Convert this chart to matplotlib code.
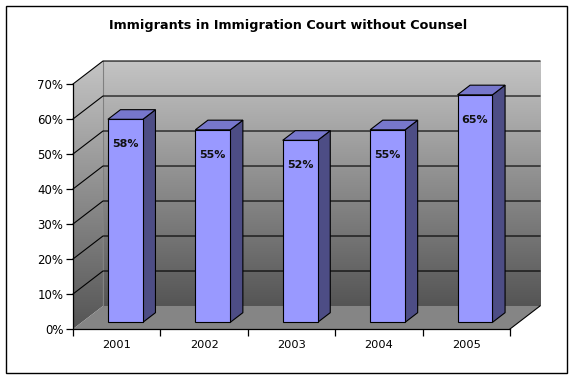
import numpy as np
import matplotlib
matplotlib.use("Agg")
import matplotlib.pyplot as plt
from matplotlib.patches import Polygon, Rectangle
from matplotlib.colors import LinearSegmentedColormap

# ---------------- data ----------------
years = ["2001", "2002", "2003", "2004", "2005"]
share = [0.58, 0.55, 0.52, 0.55, 0.65]
y_ticks = [0.0, 0.1, 0.2, 0.3, 0.4, 0.5, 0.6, 0.7]
title = "Immigrants in Immigration Court without Counsel"

# ---------------- 3d look ----------------
DX, DY = 0.343, 0.0657       # full depth offset in data units
D0, D1 = 0.29, 0.71          # bar depth range (0 = front, 1 = back)
BAR_W = 0.40
YMAX = 0.7
N = len(years)

FRONT, SIDE, TOP = "#9999FF", "#4D4D85", "#7777CC"
FLOOR = "#858585"
wall_cmap = LinearSegmentedColormap.from_list("wall", ["#555555", "#C4C4C4"])

plt.rcParams["font.family"] = ["DejaVu Sans"]


def P(x, v, d):
    """front-plane data coords for a point at depth d"""
    return (x + d * DX, v + d * DY)


fig = plt.figure(figsize=(5.76, 3.8), dpi=100)
fig.patch.set_facecolor("white")
ax = fig.add_axes([73 / 576, 51 / 380, 437 / 576, 245 / 380])
ax.set_facecolor("none")
ax.set_xlim(0, N)
ax.set_ylim(0, YMAX)

# back wall gradient
grad = np.linspace(0, 1, 256).reshape(-1, 1)
im = ax.imshow(grad, cmap=wall_cmap, origin="lower", aspect="auto",
               extent=(DX, N + DX, DY, YMAX + DY), zorder=0)
im.set_clip_on(False)

# left wall gradient, clipped to parallelogram
lw_poly = Polygon([P(0, 0, 0), P(0, YMAX, 0), P(0, YMAX, 1), P(0, 0, 1)],
                  closed=True, facecolor="none", edgecolor="none",
                  transform=ax.transData)
im2 = ax.imshow(grad, cmap=wall_cmap, origin="lower", aspect="auto",
                extent=(0, DX, 0, YMAX + DY), zorder=0)
im2.set_clip_path(lw_poly)
im2.set_clip_box(fig.bbox)
ax.set_xlim(0, N)
ax.set_ylim(0, YMAX)

# floor
ax.add_patch(Polygon([P(0, 0, 0), P(N, 0, 0), P(N, 0, 1), P(0, 0, 1)],
                     closed=True, facecolor=FLOOR, edgecolor="none",
                     zorder=1, clip_on=False))
ax.plot(*zip(P(N, 0, 0), P(N, 0, 1)), color="black", lw=0.8,
        zorder=2, clip_on=False)

# back wall left edge
ax.plot(*zip(P(0, 0, 1), P(0, YMAX, 1)), color="#808080", lw=0.8,
        zorder=2, clip_on=False)

# grid lines on left and back walls
for v in y_ticks[1:]:
    a, b, c = P(0, v, 0), P(0, v, 1), P(N, v, 1)
    ax.plot([a[0], b[0], c[0]], [a[1], b[1], c[1]], color="black",
            lw=0.8, zorder=2, clip_on=False)

# bars
for i, v in enumerate(share):
    x0 = i + 0.5 - BAR_W / 2
    x1 = i + 0.5 + BAR_W / 2
    front = [P(x0, 0, D0), P(x1, 0, D0), P(x1, v, D0), P(x0, v, D0)]
    side = [P(x1, 0, D0), P(x1, 0, D1), P(x1, v, D1), P(x1, v, D0)]
    top = [P(x0, v, D0), P(x1, v, D0), P(x1, v, D1), P(x0, v, D1)]
    for verts, col in ((side, SIDE), (top, TOP), (front, FRONT)):
        ax.add_patch(Polygon(verts, closed=True, facecolor=col,
                             edgecolor="black", lw=0.8, zorder=3,
                             clip_on=False, joinstyle="miter"))
    cx, cy = P(i + 0.5, v, D0)
    ax.text(cx, cy - 0.071, f"{v * 100:.0f}%", ha="center", va="center",
            fontsize=8, fontweight="bold", color="#111111", zorder=4)

# axes
for s in ("top", "right"):
    ax.spines[s].set_visible(False)
for s in ("left", "bottom"):
    ax.spines[s].set_linewidth(0.9)
    ax.spines[s].set_zorder(5)

ax.set_yticks(y_ticks)
ax.set_yticklabels([f"{t * 100:.0f}%" for t in y_ticks])
ax.tick_params(axis="y", length=5, width=0.9, pad=2, labelsize=8.5)

ax.set_xticks(np.arange(N + 1))
ax.set_xticklabels([])
ax.set_xticks(np.arange(N) + 0.5, minor=True)
ax.set_xticklabels(years, minor=True)
ax.tick_params(axis="x", which="major", length=5, width=0.9)
ax.tick_params(axis="x", which="minor", length=0, pad=8, labelsize=8.2)

fig.text(288 / 576, 1 - 26 / 380, title, ha="center", va="center",
         fontsize=9.2, fontweight="bold")

# outer chart border
fig.patches.append(Rectangle((6 / 576, 7 / 380), 561 / 576, 367 / 380,
                             transform=fig.transFigure, fill=False,
                             edgecolor="black", lw=1.0))

fig.savefig("out.png", dpi=100)
